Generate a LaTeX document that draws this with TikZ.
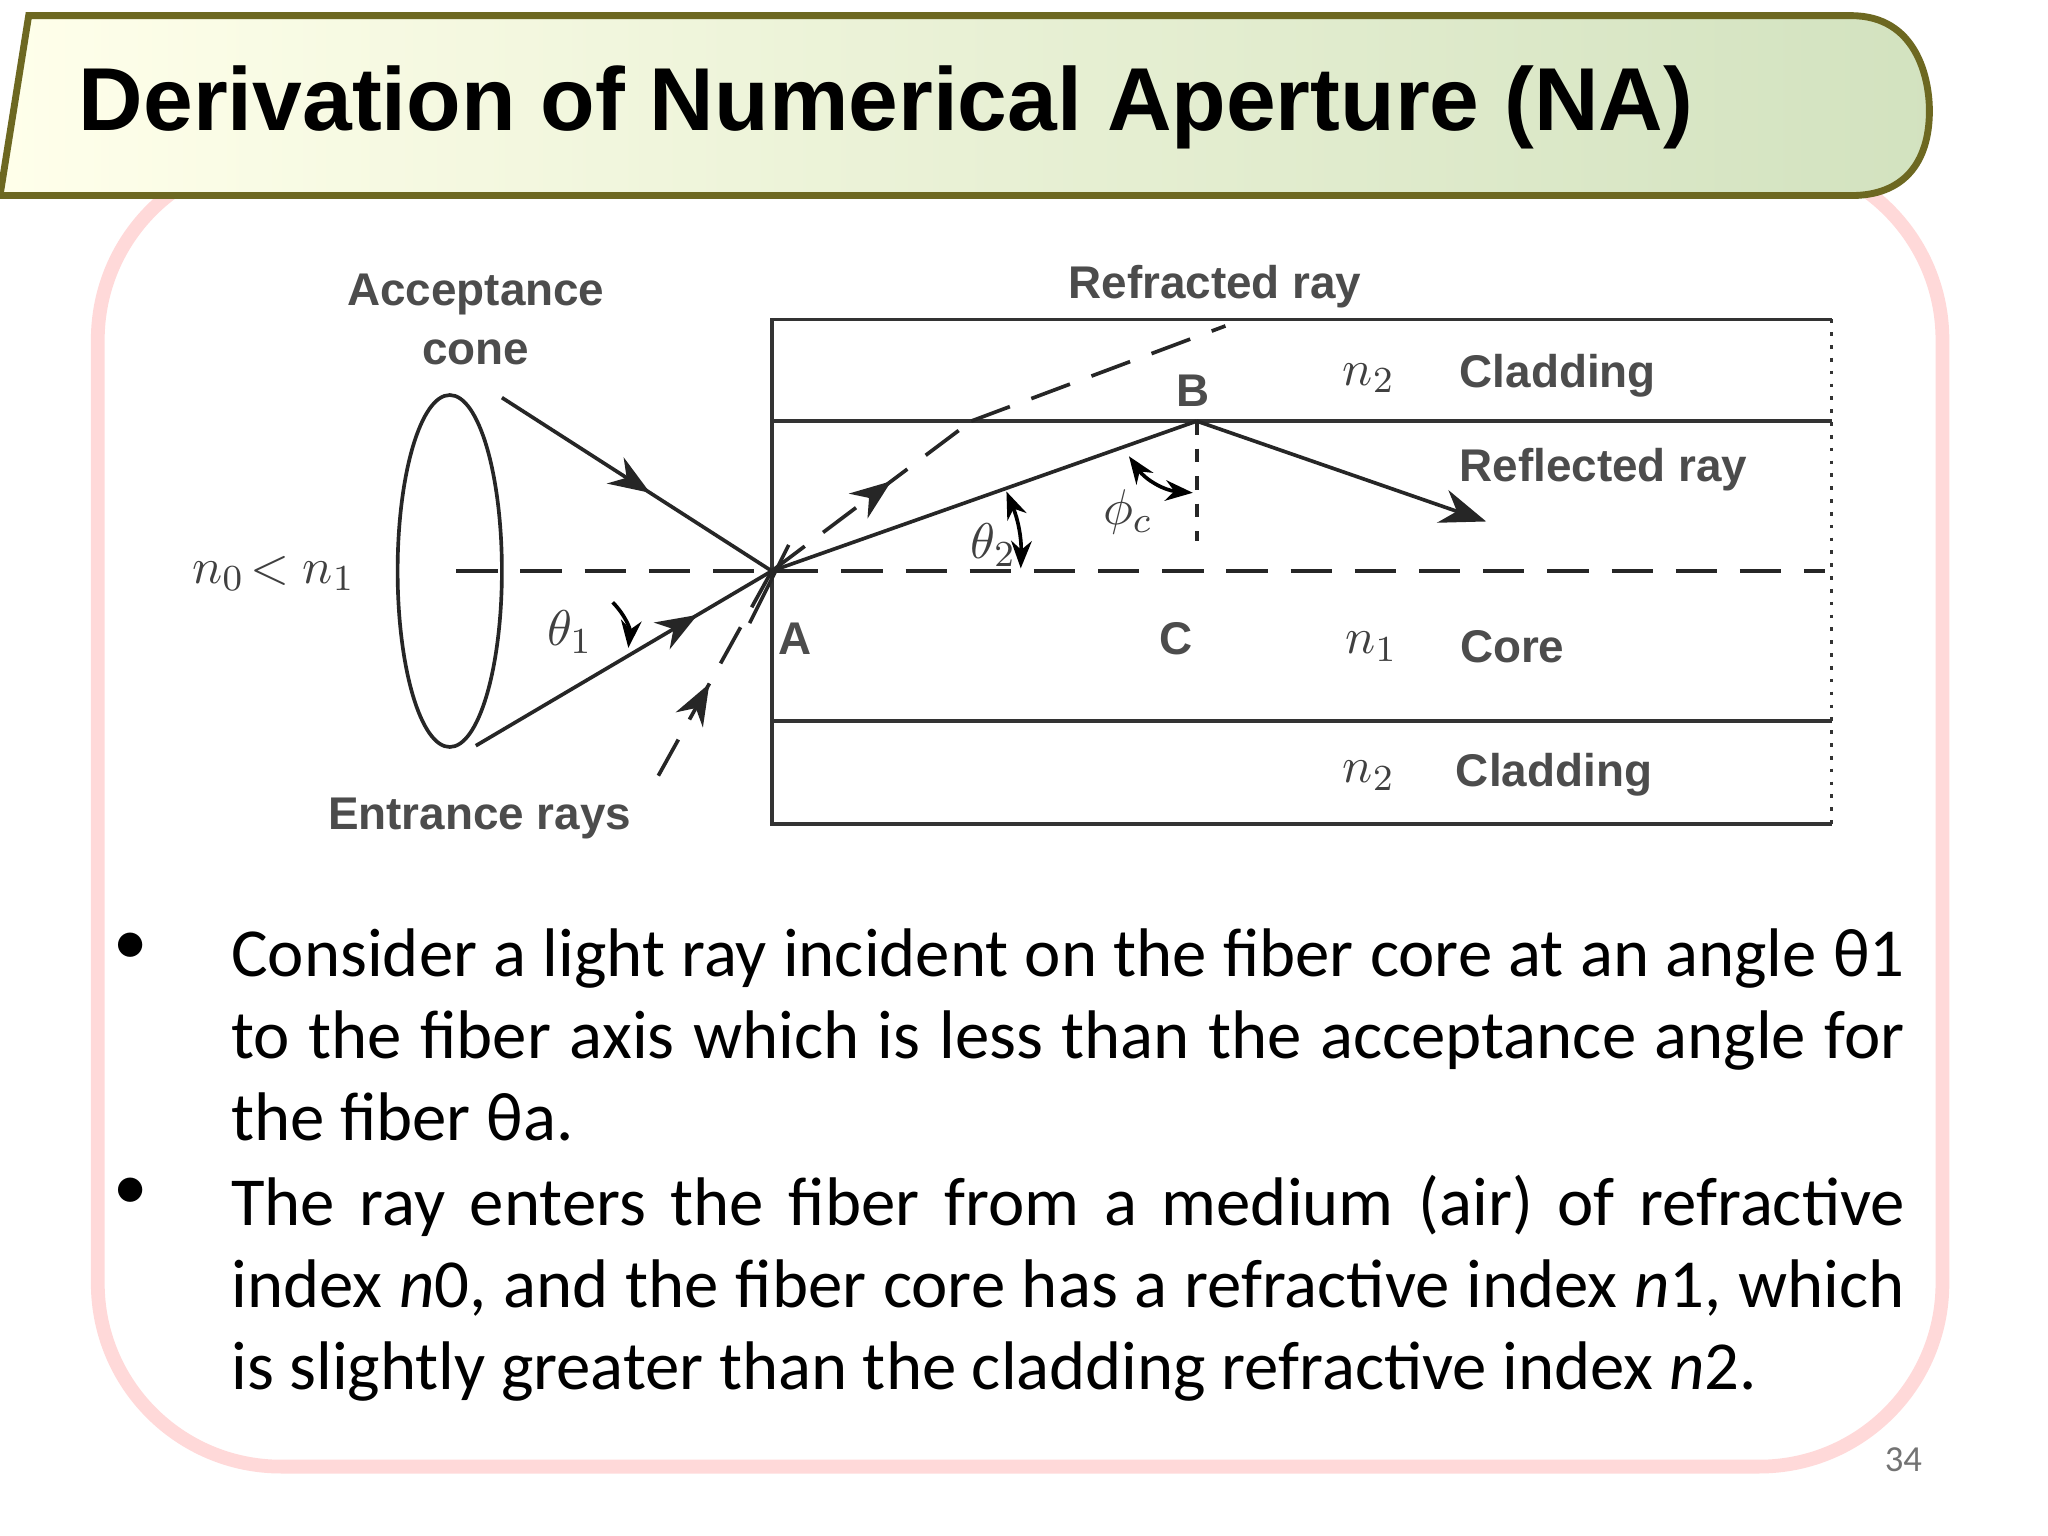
\documentclass[tikz,border=0pt]{standalone}
\usepackage{fontspec}
\setmainfont{Carlito}
\newfontfamily\arialf{Liberation Sans}
\usetikzlibrary{arrows.meta,decorations.markings}
\begin{document}
\begin{tikzpicture}[x=0.01cm,y=-0.01cm,
 lbl/.style={font=\arialf\bfseries\fontsize{10}{12}\selectfont,text=black!70},
 ml/.style={font=\fontsize{11}{12}\selectfont,text=black!75},
 ray/.style={thick,black!85},
 dray/.style={thick,black!85,dash pattern=on 9pt off 5pt},
 btxt/.style={anchor=north west,text width=12.83cm,align=justify,font=\fontsize{15}{17.9}\selectfont},
 mid/.style={postaction={decorate},decoration={markings,mark=at position #1 with {\arrow{Stealth[length=9pt]}}}}]
\useasboundingbox (0,0) rectangle (1571,1178);
\fill[white] (0,0) rectangle (1571,1178);
% frame
\draw[red!15,line width=3pt,rounded corners=40pt] (75,120) rectangle (1490,1125);
% banner
\shade[left color=yellow!8,right color=green!45!yellow!55!black!25!white,draw=olive!70!black,line width=1.5pt]
 (22,12) -- (1420,12) .. controls (1470,12) and (1480,60) .. (1480,85) .. controls (1480,125) and (1460,150) .. (1420,150) -- (0,150) -- cycle;
\node[anchor=west,font=\arialf\bfseries\fontsize{19.5}{22}\selectfont] (title) at (48,82) {Derivation of Numerical Aperture (NA)};
\node[text=black!55,font=\fontsize{8}{10}\selectfont] (pg) at (1460,1120) {34};
% fiber
\coordinate (A) at (592,438);
\coordinate (B) at (918,323);
\draw[thick,black!80] (1405,245) -- (592,245) -- (592,632) -- (1405,632);
\draw[thick,black!80,dotted] (1405,245) -- (1405,632);
\draw[thick,black!80] (592,323) -- (1405,323) (592,553) -- (1405,553);
\draw[dray] (350,438) -- (1400,438);
% cone
\draw[ray] (345,438) ellipse (40 and 135);
\draw[ray,mid=0.55] (385,305) -- (A);
\draw[ray,mid=0.75] (365,572) -- (A);
\draw[ray] (575,478) -- (605,418);
% entrance and refracted dashed ray
\draw[dray,mid=0.45] (505,595) -- (A);
\draw[dray,mid=0.6] (A) -- (745,323);
\draw[dray] (745,323) -- (940,250);
% core ray
\draw[ray] (A) -- (B);
\draw[ray,-{Stealth[length=10pt]}] (B) -- (1140,400);
\draw[thick,black!85,dashed] (B) -- (918,415);
% angle arcs
\draw[thick,-{Stealth[length=6pt]}] (470,462) to[bend left=25] (482,497);
\draw[thick,{Stealth[length=6pt]}-{Stealth[length=6pt]}] (783,436) to[bend right=12] (772,377);
\draw[thick,{Stealth[length=6pt]}-{Stealth[length=6pt]}] (866,350) to[bend right=25] (915,378);
% labels
\node[lbl,align=center] (acc) at (365,245) {Acceptance\\[1pt]cone};
\node[lbl] (ent) at (368,628) {Entrance rays};
\node[lbl] (refr) at (932,220) {Refracted ray};
\node[lbl] (refl) at (1230,360) {Reflected ray};
\node[lbl] (Bl) at (915,300) {B};
\node[lbl] (Al) at (610,490) {A};
\node[lbl] (Cl) at (902,490) {C};
\node[ml] (n2a) at (1050,290) {$n_2$};
\node[lbl] (cl1) at (1195,288) {Cladding};
\node[ml] (n1) at (1052,496) {$n_1$};
\node[lbl] (core) at (1160,496) {Core};
\node[ml] (n2b) at (1050,595) {$n_2$};
\node[lbl] (cl2) at (1192,594) {Cladding};
\node[ml] (n0) at (210,440) {$n_0\!<n_1$};
\node[ml] (t1) at (437,485) {$\theta_1$};
\node[ml] (t2) at (762,418) {$\theta_2$};
\node[ml] (pc) at (865,393) {$\phi_c$};
% bullets
\node[btxt] (txt1) at (165,700)
{Consider a light ray incident on the fiber core at an angle θ1 to the fiber axis which is less than the acceptance angle for the fiber θa.};
\node[btxt] (txt2) at (165,889)
{The ray enters the fiber from a medium (air) of refractive \mbox{index} \textit{n}0, and the fiber core has a refractive index \textit{n}1, which is slightly greater than the cladding refractive index \textit{n}2.};
\node[font=\fontsize{15}{17.9}\selectfont] (b1) at (100,728) {•};
\node[font=\fontsize{15}{17.9}\selectfont] (b2) at (100,916) {•};
\end{tikzpicture}
\end{document}
